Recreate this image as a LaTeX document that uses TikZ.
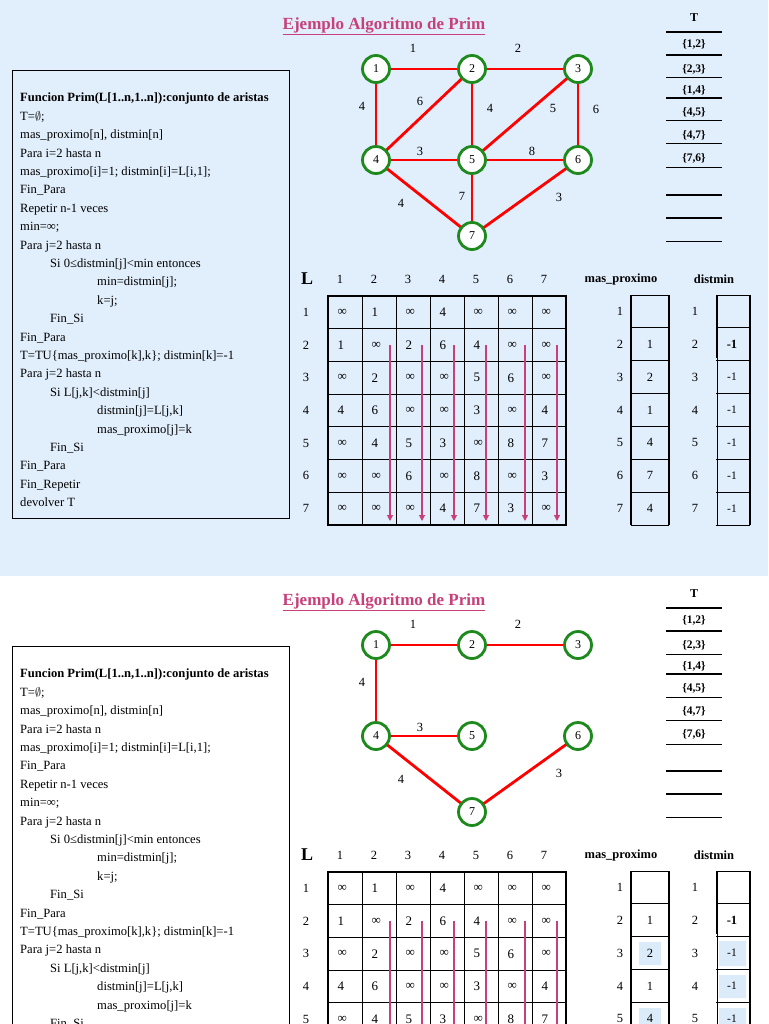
\documentclass[tikz,border=0pt]{standalone}
\usepackage{fontspec}
\setmainfont{Liberation Serif}
\usetikzlibrary{arrows.meta}
\definecolor{bgblue}{HTML}{E1EEFB}
\definecolor{pinkc}{HTML}{C8407A}
\definecolor{gr}{HTML}{1E8A1E}
\definecolor{hl}{HTML}{DCEBFA}
\tikzset{
 vert/.style={circle,draw=gr,line width=2.8pt,fill=white,minimum size=27pt,inner sep=0pt,font=\fontsize{12}{13}\selectfont},
 edge/.style={draw=red,line width=2.8pt},
 lab/.style={font=\fontsize{12.5}{13}\selectfont},
 cell/.style={font=\fontsize{13}{14}\selectfont,anchor=west},
 arr/.style={draw=pinkc,line width=1.1pt,-{Triangle[length=6pt,width=6pt]}},
}
\newcommand\PrimSlide[6]{% #1 prefix, #2 y offset, #3 edges, #4 edge labels, #5 bg, #6 hook
\begin{scope}[shift={(0,#2)}]
\fill[#5] (0,0) rectangle (768,576);
#6
\node[font=\bfseries\fontsize{17}{18}\selectfont,text=pinkc] (#1title) at (384,26) {\underline{Ejemplo Algoritmo de Prim}};
\foreach \n/\x/\y in {1/376/69,2/472/69,3/578/69,4/376/160,5/472/160,6/578/160,7/472/236}
  \coordinate (#1p\n) at (\x,\y);
\foreach \a/\b in {#3} \draw[edge] (#1p\a) -- (#1p\b);
\foreach \n in {1,...,7} \node[vert] (#1v\n) at (#1p\n) {\n};
\foreach \x/\y/\t in {#4} \node[lab] at (\x,\y) {\t};
\node[font=\bfseries\fontsize{12}{13}\selectfont] (#1T) at (694,18) {T};
\foreach \y/\w in {32/2.2pt,55/2.2pt,78/1pt,98/2.2pt,121/1pt,144/1pt,168/1pt,195/2.2pt,218/2.2pt,241/1pt}
  \draw[line width=\w] (666,\y) -- (722,\y);
\foreach \y/\t in {44/{\{1,2\}},69/{\{2,3\}},90/{\{1,4\}},112/{\{4,5\}},135/{\{4,7\}},158/{\{7,6\}}}
  \node[font=\bfseries\fontsize{11.5}{12}\selectfont] at (694,\y) {\t};
\draw[fill=#5,line width=0.8pt] (12,70) rectangle (289,518);
\node[anchor=north west,align=left,inner sep=0pt,font=\fontsize{12.6}{18.4}\selectfont] (#1code) at (20,93) {%
\textbf{Funcion Prim(L[1..n,1..n]):conjunto de aristas}\\
T=$\emptyset$;\\
mas\_proximo[n], distmin[n]\\
Para i=2 hasta n\\
mas\_proximo[i]=1; distmin[i]=L[i,1];\\
Fin\_Para\\
Repetir n-1 veces\\
min=∞;\\
Para j=2 hasta n\\
\hspace*{30pt}Si 0≤distmin[j]<min entonces\\
\hspace*{77pt}min=distmin[j];\\
\hspace*{77pt}k=j;\\
\hspace*{30pt}Fin\_Si\\
Fin\_Para\\
T=TU\{mas\_proximo[k],k\}; distmin[k]=-1\\
Para j=2 hasta n\\
\hspace*{30pt}Si L[j,k]<distmin[j]\\
\hspace*{77pt}distmin[j]=L[j,k]\\
\hspace*{77pt}mas\_proximo[j]=k\\
\hspace*{30pt}Fin\_Si\\
Fin\_Para\\
Fin\_Repetir\\
devolver T};
\node[font=\bfseries\fontsize{18}{19}\selectfont] at (307,279) {L};
\foreach \i in {1,...,7} {
  \node[lab] at ({328+34*(\i-1)+12},279) {\i};
  \node[lab] at (306,{296+32.71*(\i-0.5)}) {\i};
}
\foreach \i in {1,...,6} {
  \draw[line width=1pt] ({328+34*\i},296) -- ({328+34*\i},525);
  \draw[line width=1pt] (328,{296+32.71*\i}) -- (566,{296+32.71*\i});
}
\draw[line width=2.4pt] (328,296) rectangle (566,525);
\foreach \r/\row in {1/{∞,1,∞,4,∞,∞,∞},2/{1,∞,2,6,4,∞,∞},3/{∞,2,∞,∞,5,6,∞},4/{4,6,∞,∞,3,∞,4},5/{∞,4,5,3,∞,8,7},6/{∞,∞,6,∞,8,∞,3},7/{∞,∞,∞,4,7,3,∞}}
  \foreach \v [count=\c] in \row
    \node[cell] (#1m\r\c) at ({328+34*(\c-1)+6},{296+32.71*(\r-0.5)}) {\v};
\foreach \x in {390,422,454,486,525,557} {
  \coordinate (#1as\x) at (\x,345);
  \coordinate (#1ae\x) at (\x,521);
  \draw[arr] (#1as\x) -- (#1ae\x);
}
\node[font=\bfseries\fontsize{12.5}{13}\selectfont] at (621,279) {mas\_proximo};
\node[font=\bfseries\fontsize{12.5}{13}\selectfont] at (714,279) {distmin};
\foreach \i in {1,...,6} {
  \draw[line width=1pt] (631,{295+32.86*\i}) -- (669,{295+32.86*\i});
  \draw[line width=1pt] (716,{295+32.86*\i}) -- (750,{295+32.86*\i});
}
\draw[line width=1pt] (631,295) -- (669,295) (631,525) -- (669,525) (716,295) -- (750,295) (716,525) -- (750,525);
\draw[line width=2.4pt] (631,295) -- (631,525) (669,295) -- (669,525) (750,295) -- (750,525) (717,295) -- (717,358);
\draw[line width=0.8pt] (717,358) -- (717,525);
\foreach \i/\v in {1/{},2/1,3/2,4/1,5/4,6/7,7/4} {
  \node[lab] at (620,{295+32.86*(\i-0.5)}) {\i};
  \node[lab] at (695,{295+32.86*(\i-0.5)}) {\i};
  \node[lab] (#1mp\i) at (650,{295+32.86*(\i-0.5)}) {\v};
}
\node[font=\bfseries\fontsize{12.5}{13}\selectfont] (#1dm2) at (732,{295+32.86*1.5}) {-1};
\foreach \i in {3,...,7}
  \node[lab,font=\fontsize{11.5}{12}\selectfont] (#1dm\i) at (732,{295+32.86*(\i-0.5)}) {-1};
\end{scope}}
\begin{document}
\begin{tikzpicture}[x=1pt,y=-1pt]
\useasboundingbox (0,0) rectangle (768,1024);
\clip (0,0) rectangle (768,1024);
\fill[white] (0,0) rectangle (768,1024);
\PrimSlide{a}{0}{1/2,2/3,1/4,2/4,2/5,3/5,3/6,4/5,5/6,4/7,5/7,6/7}{413/48/1,518/48/2,362/106/4,420/101/6,490/108/4,553/108/5,596/109/6,420/151/3,532/151/8,462/196/7,401/203/4,559/197/3}{bgblue}{}
\PrimSlide{b}{576}{1/2,2/3,1/4,4/5,4/7,6/7}{413/48/1,518/48/2,362/106/4,420/151/3,401/203/4,559/197/3}{white}{%
\fill[hl] (639,366) rectangle (661,389) (639,432) rectangle (661,455);
\fill[hl] (719,365) rectangle (746,390) (719,399) rectangle (746,422) (719,432) rectangle (746,456);}
\end{tikzpicture}
\end{document}
